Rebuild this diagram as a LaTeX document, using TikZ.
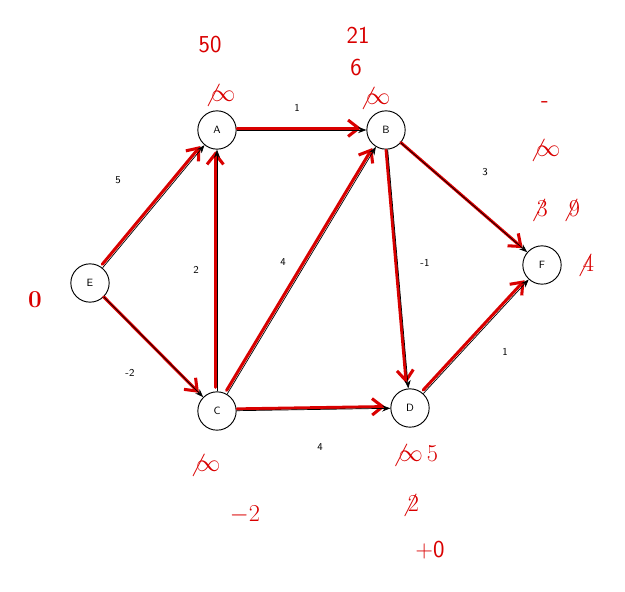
\documentclass[tikz,border=0pt]{standalone}
\usetikzlibrary{arrows.meta}
\begin{document}
\begin{tikzpicture}[x=0.03cm,y=-0.03cm,
  vtx/.style={circle,draw,thick,minimum size=1.15cm,inner sep=0pt,font=\small\sffamily},
  edge/.style={-{Stealth[length=7pt]},semithick},
  red/.style={draw=red!85!black,line width=2.6pt,line cap=round,-{Straight Barb[length=9pt,width=14pt]}},
  lbl/.style={font=\small\sffamily},
  ann/.style={text=red!85!black,font=\sffamily\huge}]
\useasboundingbox (0,0) rectangle (625,591);
\node[vtx] (E) at (90,283) {E};
\node[vtx] (A) at (217,130) {A};
\node[vtx] (B) at (386,130) {B};
\node[vtx] (C) at (217,411) {C};
\node[vtx] (D) at (410,408) {D};
\node[vtx] (F) at (542,265) {F};
\foreach \a/\b in {E/A,E/C,A/B,C/A,C/B,C/D,B/F,B/D,D/F}{
  \draw[red,shorten <=2pt,shorten >=3pt,transform canvas={xshift=-1.5pt,yshift=1.5pt}] (\a) -- (\b);
  \draw[edge] (\a) -- (\b);}
\node[lbl] (l1) at (118,180) {5};
\node[lbl] (l2) at (297,108) {1};
\node[lbl] (l3) at (485,172) {3};
\node[lbl] (l4) at (196,270) {2};
\node[lbl] (l5) at (283,262) {4};
\node[lbl] (l6) at (425,263) {-1};
\node[lbl] (l7) at (130,373) {-2};
\node[lbl] (l8) at (505,352) {1};
\node[lbl] (l9) at (320,447) {4};
% annotations
\node[ann] (aE) at (35,300) {$\mathbf{0}$};
\node[ann] (aA1) at (210,45) {50};
\node[ann] (aA2) at (220,95) {$\not\infty$};
\node[ann] (aB1) at (358,35) {21};
\node[ann] (aB2) at (356,68) {6};
\node[ann] (aB3) at (375,98) {$\not\infty$};
\node[ann] (aF1) at (545,105) {-};
\node[ann] (aF2) at (545,150) {$\not\infty$};
\node[ann] (aF3) at (555,210) {$\not3\ \not9$};
\node[ann] (aF4) at (585,265) {$\not4$};
\node[ann] (aC1) at (205,465) {$\not\infty$};
\node[ann] (aC2) at (245,515) {$-2$};
\node[ann] (aD1) at (415,455) {$\not\infty\,5$};
\node[ann] (aD2) at (410,505) {$\not2$};
\node[ann] (aD3) at (430,550) {+0};
\end{tikzpicture}
\end{document}
